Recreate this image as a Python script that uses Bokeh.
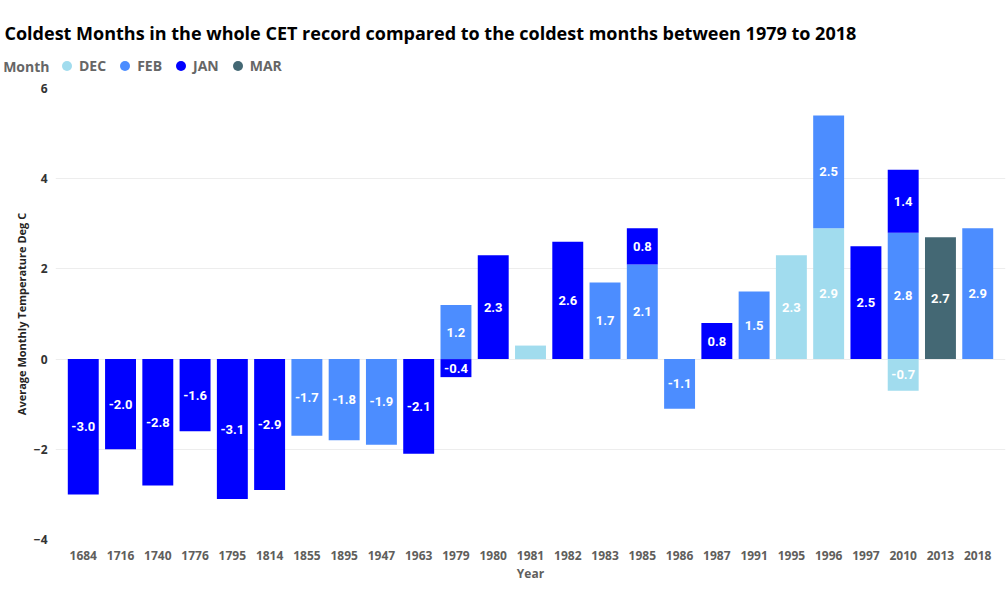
from bokeh.plotting import figure
from bokeh.layouts import column
from bokeh.models import FactorRange, Range1d, Legend, LegendItem, ColumnDataSource, FixedTicker
from bokeh.core.properties import value
from bokeh.embed import file_html
from bokeh.resources import INLINE

# Coldest months by year (Central England Temperature), deg C
years = ["1684", "1716", "1740", "1776", "1795", "1814", "1855", "1895", "1947", "1963",
         "1979", "1980", "1981", "1982", "1983", "1985", "1986", "1987", "1991", "1995",
         "1996", "1997", "2010", "2013", "2018"]

dec = [0, 0, 0, 0, 0, 0, 0, 0, 0, 0,
       0, 0, 0.3, 0, 0, 0, 0, 0, 0, 2.3,
       2.9, 0, -0.7, 0, 0]
feb = [0, 0, 0, 0, 0, 0, -1.7, -1.8, -1.9, 0,
       1.2, 0, 0, 0, 1.7, 2.1, -1.1, 0, 1.5, 0,
       2.5, 0, 2.8, 0, 2.9]
jan = [-3.0, -2.0, -2.8, -1.6, -3.1, -2.9, 0, 0, 0, -2.1,
       -0.4, 2.3, 0, 2.6, 0, 0.8, 0, 0.8, 0, 0,
       0, 2.5, 1.4, 0, 0]
mar = [0, 0, 0, 0, 0, 0, 0, 0, 0, 0,
       0, 0, 0, 0, 0, 0, 0, 0, 0, 0,
       0, 0, 0, 2.7, 0]

months = ["DEC", "FEB", "JAN", "MAR"]
series = [dec, feb, jan, mar]
colors = ["#A1DCEE", "#4C8DFF", "#0000FF", "#446874"]

y_ticks = [-4, -2, 0, 2, 4, 6]
title_text = "Coldest Months in the whole CET record compared to the coldest months between 1979 to 2018"

FONT = "Open Sans"
W = 1008
LEFT = 48            # shared left border
HEADER_H = 80
HEADER_TOP = 45      # room for the title above the legend row
HEADER_FRAME = HEADER_H - HEADER_TOP
LEGEND_ROW = 14      # legend row centre, px above the header frame's bottom


def strip_axis(ax):
    ax.axis_line_color = None
    ax.major_tick_line_color = None
    ax.minor_tick_line_color = None


# ---- header: title, "Month" heading and the legend row ----
header = figure(width=W, height=HEADER_H,
                x_range=Range1d(0, W - LEFT - 3), y_range=Range1d(0, HEADER_FRAME),
                output_backend="svg", toolbar_location=None, x_axis_location=None,
                min_border_left=LEFT, min_border_right=3,
                min_border_top=HEADER_TOP, min_border_bottom=0)
header.grid.visible = False
header.outline_line_color = None

header.title.text = title_text
header.title.align = "left"
header.title.offset = -51
header.title.standoff = 2
header.title.text_font = FONT
header.title.text_font_size = "18px"
header.title.text_font_style = "bold"
header.title.text_color = "#000000"

hy = header.yaxis[0]
hy.ticker = FixedTicker(ticks=[LEGEND_ROW])
hy.major_label_overrides = {LEGEND_ROW: "Month"}
hy.major_label_standoff = 0
hy.major_label_text_font = FONT
hy.major_label_text_font_size = "14px"
hy.major_label_text_font_style = "bold"
hy.major_label_text_color = "#666666"
strip_axis(hy)

# ---- chart ----
p = figure(
    x_range=FactorRange(factors=years, range_padding=0.245, range_padding_units="absolute"),
    y_range=Range1d(y_ticks[0], y_ticks[-1]),
    width=W, height=593 - HEADER_H,
    output_backend="svg", toolbar_location=None,
    min_border_left=LEFT, min_border_right=3, min_border_top=8, min_border_bottom=54,
)

# Stack positives upward and negatives downward, in legend order
pos = [0.0] * len(years)
neg = [0.0] * len(years)
legend_items = []
for name, vals, col in zip(months, series, colors):
    xs, bottoms, tops, mids, labels = [], [], [], [], []
    for i, v in enumerate(vals):
        if v == 0:
            continue
        if v > 0:
            b = pos[i]
            t = b + v
            pos[i] = t
        else:
            b = neg[i]
            t = b + v
            neg[i] = t
        xs.append(years[i])
        bottoms.append(b)
        tops.append(t)
        mids.append((b + t) / 2)
        labels.append(f"{v:.1f}" if abs(v) >= 0.35 else "")
    src = ColumnDataSource(dict(x=xs, bottom=bottoms, top=tops, mid=mids, label=labels))
    p.vbar(x="x", bottom="bottom", top="top", width=0.83, source=src,
           fill_color=col, line_color=None)
    p.text(x="x", y="mid", text="label", source=src, text_color="white",
           text_font=value("Roboto"), text_font_style="bold", text_font_size="13px",
           text_align="center", text_baseline="middle")
    # round swatch used only by the legend; the renderer itself stays hidden
    swatch = header.scatter(x=[0], y=[0], marker="circle", size=10,
                            fill_color=col, line_color=None, visible=False)
    legend_items.append(LegendItem(label=name, renderers=[swatch]))

legend = Legend(items=legend_items, orientation="horizontal",
                location=(-1, LEGEND_ROW - 12), click_policy="none")
legend.label_text_font = FONT
legend.label_text_font_size = "14px"
legend.label_text_font_style = "bold"
legend.label_text_color = "#666666"
legend.glyph_width = 25
legend.glyph_height = 25
legend.label_standoff = -7
legend.spacing = 6
legend.padding = 0
legend.margin = 0
legend.border_line_color = None
legend.background_fill_alpha = 0
header.add_layout(legend)

# Axes
p.yaxis.ticker = FixedTicker(ticks=y_ticks)
p.yaxis.axis_label = "Average Monthly Temperature Deg C"
p.yaxis.axis_label_text_font = FONT
p.yaxis.axis_label_text_font_size = "11px"
p.yaxis.axis_label_text_font_style = "bold"
p.yaxis.axis_label_text_color = "#252423"
p.yaxis.axis_label_standoff = 2
p.yaxis.major_label_standoff = 2
p.yaxis.major_label_text_font = FONT
p.yaxis.major_label_text_font_size = "12px"
p.yaxis.major_label_text_font_style = "bold"
p.yaxis.major_label_text_color = "#333333"

p.xaxis.axis_label = "Year"
p.xaxis.axis_label_text_font = FONT
p.xaxis.axis_label_text_font_size = "12px"
p.xaxis.axis_label_text_font_style = "bold"
p.xaxis.axis_label_text_color = "#605E5C"
p.xaxis.axis_label_standoff = 2
p.xaxis.major_label_text_font = FONT
p.xaxis.major_label_text_font_size = "12px"
p.xaxis.major_label_text_font_style = "bold"
p.xaxis.major_label_text_color = "#605E5C"

strip_axis(p.xaxis[0])
strip_axis(p.yaxis[0])

p.xgrid.grid_line_color = None
p.ygrid.grid_line_color = "#EDEDED"
p.ygrid.grid_line_width = 1
p.outline_line_color = None

layout = column(header, p, spacing=0)
open("out.html", "w").write(file_html(layout, INLINE))
